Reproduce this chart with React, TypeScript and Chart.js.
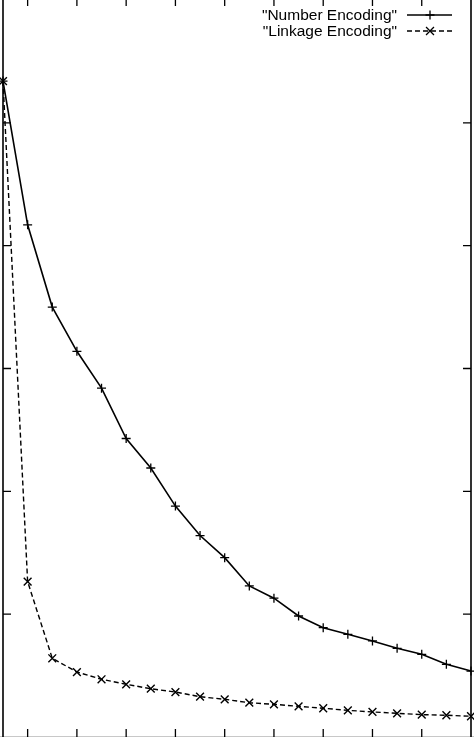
import React, { useEffect, useRef } from 'react';
import { Chart, ChartConfiguration } from 'chart.js/auto';

// x positions (run index) and the two measured series
const steps = [1, 2, 3, 4, 5, 6, 7, 8, 9, 10, 11, 12, 13, 14, 15, 16, 17, 18, 19, 20];
const numberEncoding = [534, 417, 350, 314, 284, 243, 219, 188, 164, 146, 123, 113, 98.5, 89, 83.6, 78.2, 72.2, 67.3, 59.2, 53.7];
const linkageEncoding = [534, 126.5, 64.1, 52.9, 47.0, 42.9, 39.3, 36.6, 32.8, 30.7, 27.9, 26.6, 25.0, 23.4, 21.7, 20.4, 19.3, 18.2, 17.7, 16.9];
const seriesLabels = ['"Number Encoding"', '"Linkage Encoding"'];

// tick marks (labels are cut off in the original)
const xTicks = [2, 4, 6, 8, 10, 12, 14, 16, 18];
const yTicks = [100, 200, 300, 400, 500];

const gnuplotFrame = {
  id: 'gnuplotFrame',
  afterDatasetsDraw(chart: any) {
    const { ctx, chartArea, scales } = chart;
    const { left, right, top, bottom } = chartArea;
    ctx.save();
    ctx.setLineDash([]);

    // bottom edge only shows as a faint line, top edge is cut off
    ctx.strokeStyle = '#c8c8c8';
    ctx.lineWidth = 1;
    ctx.beginPath();
    ctx.moveTo(0, bottom - 0.5);
    ctx.lineTo(chart.width, bottom - 0.5);
    ctx.stroke();

    ctx.strokeStyle = '#000';
    ctx.lineWidth = 1.6;
    ctx.beginPath();
    ctx.moveTo(left, top);
    ctx.lineTo(left, bottom);
    ctx.moveTo(right, top);
    ctx.lineTo(right, bottom);
    ctx.stroke();

    ctx.lineWidth = 1.3;
    ctx.beginPath();
    xTicks.forEach((v) => {
      const px = scales.x.getPixelForValue(v);
      ctx.moveTo(px, bottom);
      ctx.lineTo(px, bottom - 8);
      ctx.moveTo(px, top);
      ctx.lineTo(px, top + 6);
    });
    yTicks.forEach((v) => {
      const py = scales.y.getPixelForValue(v);
      ctx.moveTo(left, py);
      ctx.lineTo(left + 8, py);
      ctx.moveTo(right, py);
      ctx.lineTo(right - 8, py);
    });
    ctx.stroke();

    // legend, gnuplot style: right aligned text, sample on the right
    ctx.font = '15.5px "Liberation Sans", Arial, sans-serif';
    ctx.fillStyle = '#000';
    ctx.textAlign = 'right';
    ctx.textBaseline = 'middle';
    chart.data.datasets.forEach((ds: any, i: number) => {
      const cy = 15 + i * 16;
      ctx.fillText(ds.label, 397, cy + 0.5);
      ctx.lineWidth = 1.3;
      ctx.setLineDash(ds.borderDash || []);
      ctx.beginPath();
      ctx.moveTo(407, cy);
      ctx.lineTo(452, cy);
      ctx.stroke();
      ctx.setLineDash([]);
      ctx.beginPath();
      const cx = 430;
      if (ds.pointStyle === 'cross') {
        const r = ds.pointRadius;
        ctx.moveTo(cx - r, cy);
        ctx.lineTo(cx + r, cy);
        ctx.moveTo(cx, cy - r);
        ctx.lineTo(cx, cy + r);
      } else {
        const r = ds.pointRadius * 0.72;
        ctx.moveTo(cx - r, cy - r);
        ctx.lineTo(cx + r, cy + r);
        ctx.moveTo(cx - r, cy + r);
        ctx.lineTo(cx + r, cy - r);
      }
      ctx.stroke();
    });
    ctx.restore();
  },
};

export default function App() {
  const canvasRef = useRef<HTMLCanvasElement | null>(null);

  useEffect(() => {
    document.body.style.margin = '0';
    if (!canvasRef.current) return;

    const config: ChartConfiguration<'line'> = {
      type: 'line',
      data: {
        datasets: [
          {
            label: seriesLabels[0],
            data: steps.map((s, i) => ({ x: s, y: numberEncoding[i] })),
            borderColor: '#000',
            backgroundColor: '#000',
            borderWidth: 1.6,
            pointStyle: 'cross',
            pointRadius: 4.5,
            pointBorderWidth: 1.3,
            tension: 0,
            clip: false as any,
          },
          {
            label: seriesLabels[1],
            data: steps.map((s, i) => ({ x: s, y: linkageEncoding[i] })),
            borderColor: '#000',
            backgroundColor: '#000',
            borderWidth: 1.4,
            borderDash: [5, 3],
            pointStyle: 'crossRot',
            pointRadius: 5.5,
            pointBorderWidth: 1.4,
            tension: 0,
            clip: false as any,
          },
        ],
      },
      options: {
        responsive: false,
        animation: false,
        layout: { autoPadding: false, padding: { left: 3, right: 3, top: 0, bottom: 0 } },
        scales: {
          x: { type: 'linear', min: 1, max: 20, display: false },
          y: { type: 'linear', min: 0, max: 600, display: false },
        },
        plugins: {
          legend: { display: false },
          tooltip: { enabled: false },
        },
      },
      plugins: [gnuplotFrame],
    };

    const chart = new Chart(canvasRef.current, config);
    return () => {
      chart.destroy();
    };
  }, []);

  return (
    <div style={{ width: 474, height: 737, background: 'white' }}>
      <canvas ref={canvasRef} width={474} height={737} style={{ width: 474, height: 737, display: 'block' }} />
    </div>
  );
}
